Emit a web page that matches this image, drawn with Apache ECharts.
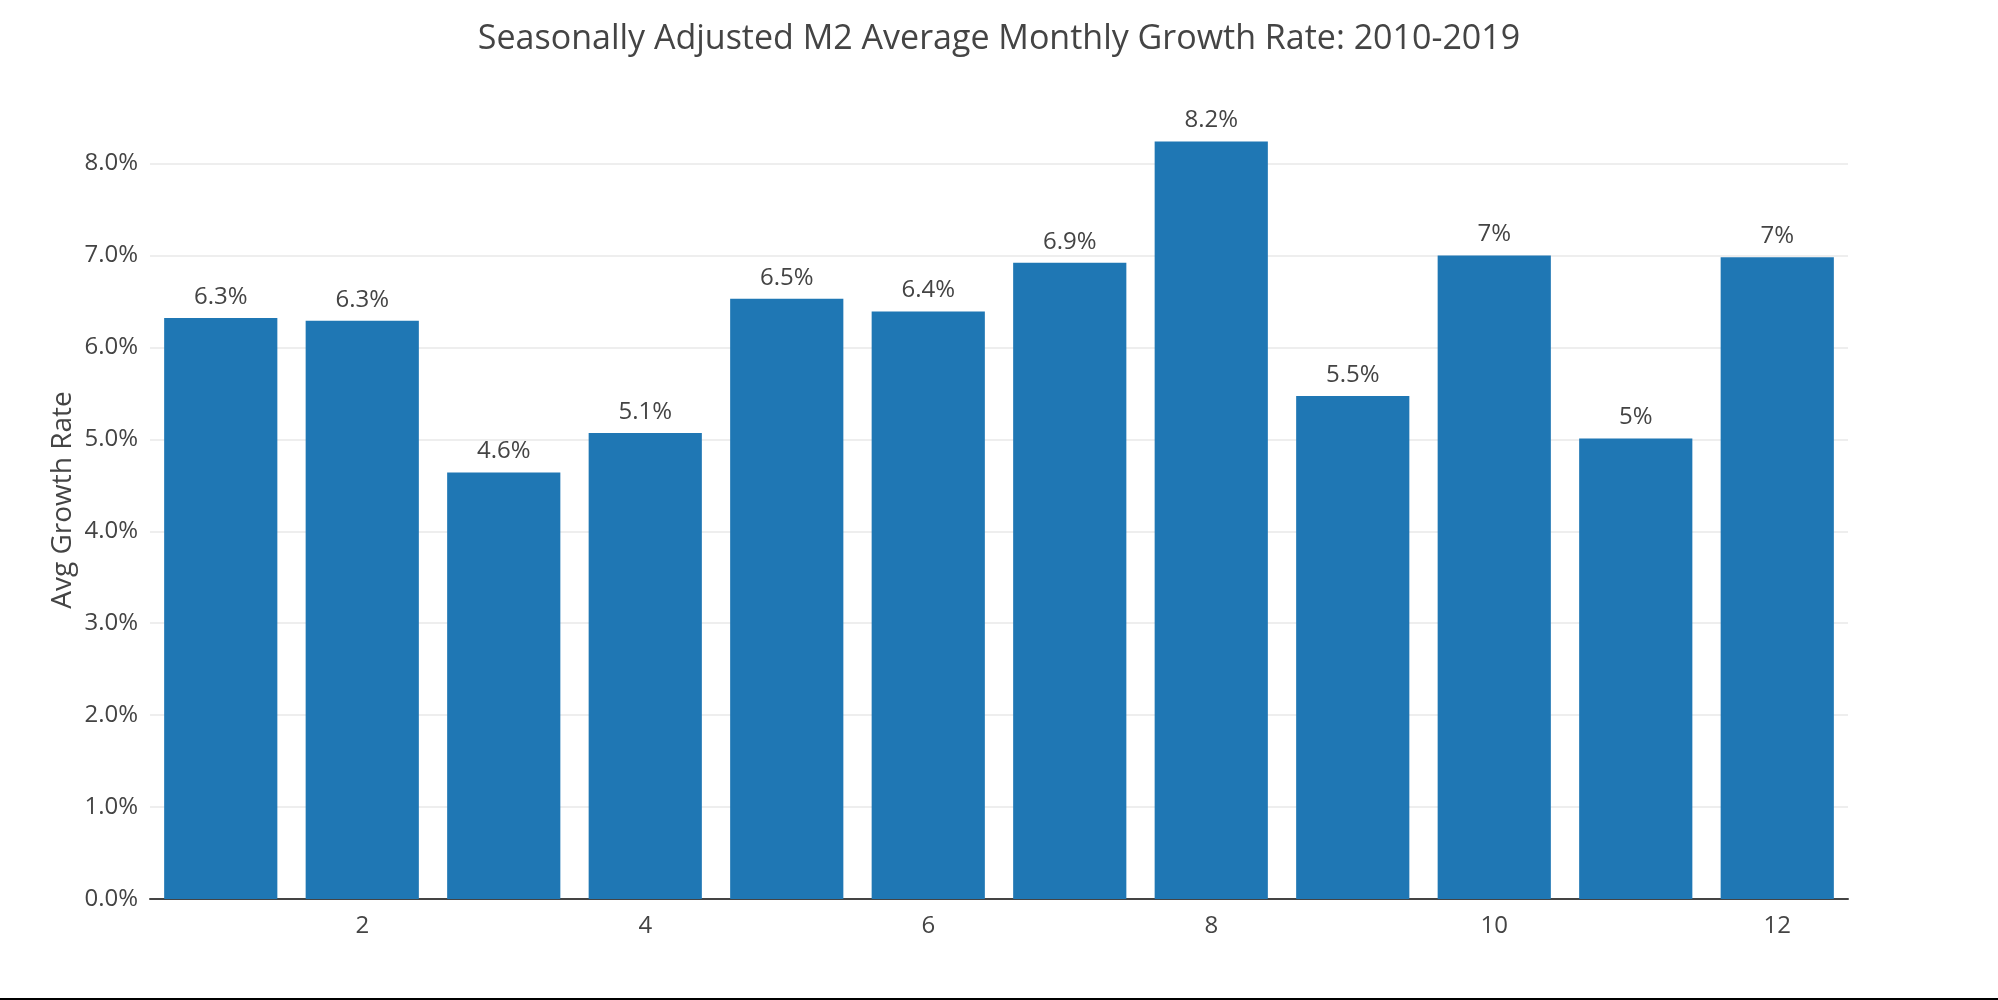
<!DOCTYPE html>
<html>
<head>
<meta charset="utf-8">
<script src="https://cdn.jsdelivr.net/npm/echarts@6/dist/echarts.min.js"></script>
<style>
html,body{margin:0;padding:0;background:#fff;}
#chart{width:1998px;height:1000px;}
</style>
</head>
<body>
<div id="chart"></div>
<script>
const months = ['1','2','3','4','5','6','7','8','9','10','11','12'];
const growthRates = [6.32, 6.29, 4.64, 5.07, 6.53, 6.39, 6.92, 8.24, 5.47, 7.00, 5.01, 6.98];
const yTicks = [0, 1, 2, 3, 4, 5, 6, 7, 8];
const titleText = 'Seasonally Adjusted M2 Average Monthly Growth Rate: 2010-2019';
const yAxisTitle = 'Avg Growth Rate';

const FONT = '"Open Sans", "Noto Sans", sans-serif';
const chart = echarts.init(document.getElementById('chart'), null, {renderer: 'canvas'});

function fmtLabel(v) {
  return parseFloat(v.toPrecision(2)) + '%';
}

chart.setOption({
  backgroundColor: '#ffffff',
  animation: false,
  title: {
    text: titleText,
    left: 'center',
    top: 17,
    textStyle: {fontFamily: FONT, fontSize: 34, fontWeight: 'normal', color: '#444'}
  },
  grid: {left: 150, right: 150, top: 101, bottom: 101, containLabel: false},
  xAxis: {
    type: 'category',
    data: months,
    boundaryGap: true,
    axisLine: {show: true, lineStyle: {color: '#444', width: 2}},
    axisTick: {show: false},
    axisLabel: {
      interval: function (index) { return index % 2 === 1; },
      margin: 15,
      fontFamily: FONT, fontSize: 24, color: '#444'
    },
    splitLine: {show: false}
  },
  yAxis: {
    type: 'value',
    min: yTicks[0],
    max: 8.68,
    interval: 1,
    name: yAxisTitle,
    nameLocation: 'middle',
    nameGap: 73,
    nameMoveOverlap: false,
    nameTextStyle: {fontFamily: FONT, fontSize: 28, color: '#444'},
    axisLine: {show: false},
    axisTick: {show: false},
    axisLabel: {
      showMaxLabel: false,
      margin: 12,
      fontFamily: FONT, fontSize: 24, color: '#444',
      formatter: function (v) { return yTicks.indexOf(v) >= 0 ? v.toFixed(1) + '%' : ''; }
    },
    splitLine: {show: true, showMinLine: false, showMaxLine: false, lineStyle: {color: '#eeeeee', width: 2}}
  },
  series: [{
    type: 'bar',
    data: growthRates,
    barCategoryGap: '20%',
    itemStyle: {color: '#1f77b4'},
    label: {
      show: true,
      position: 'top',
      distance: 9,
      fontFamily: FONT, fontSize: 24, color: '#444',
      formatter: function (p) { return fmtLabel(p.value); }
    }
  }],
  graphic: [{
    type: 'rect',
    shape: {x: 0, y: 998, width: 1998, height: 2},
    style: {fill: '#000'},
    silent: true
  }]
});
</script>
</body>
</html>
